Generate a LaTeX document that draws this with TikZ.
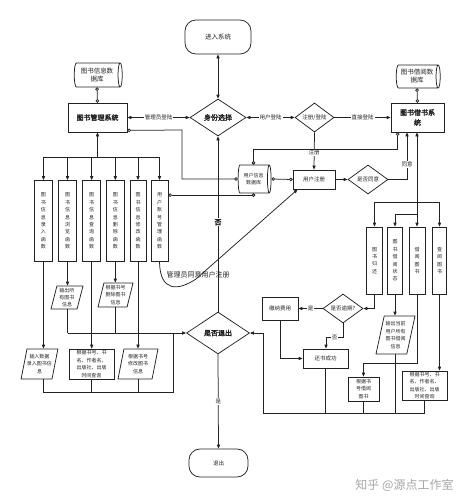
\documentclass[tikz,border=0pt]{standalone}
\usepackage{fontspec}
\setmainfont{Noto Sans CJK SC}[AutoFakeBold=2.5]
\usetikzlibrary{shapes.geometric,arrows.meta,calc}
\newcommand\myfs[2]{\fontsize{#1}{#2}\selectfont}
\definecolor{lnc}{HTML}{222222}
\begin{document}
\begin{tikzpicture}[x=1pt,y=-1pt,color=lnc,line width=0.75pt,
  box/.style={draw,rectangle,inner sep=0pt,align=center,font=\myfs{5}{7.4}},
  vbox/.style={box,minimum height=81pt,minimum width=18pt},
  rbox/.style={box,minimum height=67pt,minimum width=15.5pt},
  term/.style={draw,rectangle,rounded corners=11pt,inner sep=0pt,font=\myfs{6.5}{8}},
  dia/.style={draw,diamond,aspect=1.5,inner sep=0pt,align=center,font=\myfs{5.5}{7}},
  cyl/.style={draw,cylinder,shape aspect=0.3,inner sep=0pt,align=center},
  para/.style={draw,trapezium,trapezium left angle=73,trapezium right angle=107,
    trapezium stretches body,inner sep=0pt,align=center,font=\myfs{5}{7.4}},
  arr/.style={-{Triangle[length=4pt,width=3.2pt]}},
  arr2/.style={{Triangle[length=4pt,width=3.2pt]}-{Triangle[length=4pt,width=3.2pt]}},
  oo/.style={{Circle[length=3.5pt,width=3.5pt,fill=white]}-{Circle[length=3.5pt,width=3.5pt,fill=white]}},
  lab/.style={fill=white,inner sep=1pt,font=\myfs{5.5}{6.5}}]
\useasboundingbox (0,0) rectangle (474,504);

% ---------- nodes: top ----------
\node[term,minimum width=66pt,minimum height=34pt] (start) at (218,37) {进入系统};
\node[dia,minimum width=56pt,minimum height=37pt,font=\myfs{7}{8}\bfseries] (id) at (218,117.5) {身份选择};
\node[cyl,minimum width=24pt,minimum height=48pt,font=\myfs{6.5}{8}] (bookdb) at (97,75) {图书信息数\\据库};
\node[box,minimum width=59pt,minimum height=29pt,font=\myfs{7}{8}\bfseries] (mgr) at (97.5,117.5) {图书管理系统};
\node[dia,minimum width=39pt,minimum height=29pt] (reg) at (314.5,117.5) {注册/登陆};
\node[box,minimum width=53pt,minimum height=29pt,font=\myfs{7}{10}\bfseries] (borrow) at (417.5,117.5) {图书借书系\\统};
\node[cyl,minimum width=23pt,minimum height=44pt,font=\myfs{6.5}{8}] (borrowdb) at (417,76.5) {图书借阅数\\据库};
\node[cyl,minimum width=28pt,minimum height=33pt,font=\myfs{5}{7.5}] (userdb) at (253.5,179) {用户信息\\数据库};
\node[box,minimum width=42pt,minimum height=19pt,font=\myfs{5.5}{7}] (ureg) at (314,179.5) {用户注册};
\node[dia,minimum width=40pt,minimum height=29pt] (agree) at (368,179.5) {是否同意};

% ---------- left function boxes ----------
\node[vbox] (f1) at (43.5,221) {图\\书\\信\\息\\录\\入\\函\\数};
\node[vbox] (f2) at (67.5,221) {图\\书\\信\\息\\浏\\览\\函\\数};
\node[vbox] (f3) at (91.7,221) {图\\书\\信\\息\\查\\询\\函\\数};
\node[vbox] (f4) at (115.3,221) {图\\书\\信\\息\\删\\除\\函\\数};
\node[vbox,minimum width=16pt] (f5) at (138,221) {图\\书\\信\\息\\修\\改\\函\\数};
\node[vbox,minimum width=17pt] (f6) at (159.5,221) {用\\户\\账\\号\\管\\理\\函\\数};

\node[para,minimum width=35pt,minimum height=30pt] (p1) at (39.5,364) {输入数据\\录入图书信\\息};
\node[para,minimum width=32pt,minimum height=23pt] (p2) at (67,297.5) {输出所\\有图书\\信息};
\node[box,minimum width=45pt,minimum height=30pt] (q3) at (91.5,364) {根据书号、书\\名、作者名、\\出版社、出版\\时间查询};
\node[para,minimum width=35pt,minimum height=24pt] (p4) at (115.5,295) {根据书号\\删除图书\\信息};
\node[para,minimum width=40pt,minimum height=30pt] (p5) at (138,364) {根据书号\\修改图书\\信息};

% ---------- centre ----------
\node[dia,minimum width=63pt,minimum height=42pt,font=\myfs{7}{8}\bfseries] (exit) at (218,333) {是否退出};
\node[term,minimum width=59pt,minimum height=28pt,font=\myfs{5.5}{7}] (end) at (218.5,463) {退出};

% ---------- right ----------
\node[rbox,minimum width=16pt] (r1) at (374.5,260.5) {图\\书\\归\\还};
\node[rbox,minimum width=15pt] (r2) at (395,260.5) {图\\书\\借\\阅\\状\\态};
\node[rbox,minimum width=16pt] (r3) at (417,260.5) {借\\阅\\图\\书};
\node[rbox,minimum width=14.5pt] (r4) at (439.5,260.5) {查\\阅\\图\\书};

\node[dia,minimum width=40pt,minimum height=29pt] (overdue) at (343,308.5) {是否逾期?};
\node[box,minimum width=36pt,minimum height=23pt,font=\myfs{5.5}{7}] (pay) at (280,308.5) {缴纳费用};
\node[box,minimum width=45pt,minimum height=19pt,font=\myfs{5.5}{7}] (ret) at (325.5,358.5) {还书成功};
\node[para,minimum width=39pt,minimum height=38pt] (p6) at (395.5,335) {输出当前\\用户所有\\图书借阅\\信息};
\node[box,minimum width=31pt,minimum height=24pt] (q7) at (363.5,389) {根据书\\号借阅\\图书};
\node[box,minimum width=45pt,minimum height=29pt] (q8) at (424.5,385.5) {根据书号、书\\名、作者名、\\出版社、出版\\时间查询};

\coordinate (bT) at (43.5,157);
\coordinate (bL) at (43.5,392);
\coordinate (jL) at (173,392);
\coordinate (bR) at (417,202);
\coordinate (bB) at (263,413);

% ---------- connectors: top ----------
\draw[arr2] (start) -- (id);
\draw[oo] (bookdb.south) -- (mgr.north);
\draw[arr2] (mgr.east) -- node[lab]{管理员登陆} (id.west);
\draw[arr2] (id.east) -- node[lab]{用户登陆} (reg.west);
\draw[arr] (reg.east) -- node[lab]{直接登陆} (borrow.west);
\draw[oo] (borrowdb.south) -- (borrow.north);
\draw[arr] (reg.south) -- node[lab,pos=0.53]{注册} (ureg.north);
\draw[oo] ($(mgr.south east)+(0,-2)$) -- (182,130) -- (182,179) -- (userdb.west);
\draw[oo] ($(borrow.south west)+(7,0)$) -- ++(0,17) -| (userdb.north);
\draw[oo] (userdb.east) -- (ureg.west);
\draw[oo] ($(f6.north east)+(0,15)$) -| (userdb.south);
\draw[arr] (ureg.east) -- (agree.west);
\draw[arr] (agree.east) -| node[lab,pos=0.66]{同意} ($(borrow.south)+(-10.5,0)$);

% ---------- right bus ----------
\draw[arr] (bR) -- (borrow.south -| bR);
\draw (r1.north |- bR) -- (r4.north |- bR);
\draw[arr] (r1.north |- bR) -- (r1.north);
\draw[arr] (r4.north |- bR) -- (r4.north);
\draw[arr] (bR) -- (r3.north);
\draw[arr] ($(bR)+(0,12)$) -| (r2.north);

\draw[arr] (r1.south) |- (overdue.east);
\draw[arr] (overdue.west) -- node[lab]{是} (pay.east);
\draw[arr] (pay.south) |- (ret.west);
\draw[arr] (overdue.south) -- ++(0,14) -| node[lab,pos=0.25]{否} ($(ret.north)+(0.5,0)$);
\draw (ret.south) -- (ret.south |- bB);
\draw[arr] (r2.south) -- (r2.south |- p6.north);
\draw (r2.south |- p6.south) -- (r2.south |- bB);
\draw[arr] (r3.south) -- ($(r3.south)+(0,69)$) -| (q7.north);
\draw (q7.south) -- (q7.south |- bB);
\draw[arr] (r4.south) -- (r4.south |- q8.north);
\draw (q8.south) -- (q8.south |- bB);
\draw (bB) -- (q8.south |- bB);
\draw[arr] (bB) -- (bB |- exit.east) -- (exit.east);

% ---------- left bus ----------
\draw (f1.north |- bT) -- (f6.north |- bT);
\draw[arr] (mgr.south |- bT) -- (mgr.south);
\foreach \i in {f1,f2,f3,f4,f5,f6} {\draw[arr] (\i.north |- bT) -- (\i.north);}
\draw[arr] (f1.south) -- (f1.south |- p1.north);
\draw[arr] (f2.south) -- (f2.south |- p2.north);
\draw[arr] (f3.south) -- (f3.south |- q3.north);
\draw[arr] (f4.south) -- (f4.south |- p4.north);
\draw[arr] (f5.south) -- (f5.south |- p5.north);
\draw (f2.south |- p2.south) -- (f2.south |- exit.west);
\draw (f4.south |- p4.south) -- (f4.south |- exit.west);
\draw[arr] (f2.south |- exit.west) -- (exit.west);
\draw (f1.south |- p1.south) -- (bL) -- (jL) -- (jL |- exit.west);
\draw (f3.south |- q3.south) -- (f3.south |- bL);
\draw (f5.south |- p5.south) -- (f5.south |- bL);

% ---------- centre ----------
\draw[arr] (exit.north) -- node[lab,pos=0.51,font=\myfs{7}{8}\bfseries]{否} (id.south);
\draw[arr] (exit.south) -- node[lab]{是} (end.north);
\draw[arr] (f6.south) .. controls (160,292) and (178,291) .. (196,279) -- ($(ureg.south west)+(5,0)$);
\node[font=\myfs{7}{8}] (lbl) at (198,275) {管理员同意用户注册};

\node[text=black!35,font=\myfs{12}{14}] (wm) at (404.5,485) {知乎 @源点工作室};
\end{tikzpicture}
\end{document}
